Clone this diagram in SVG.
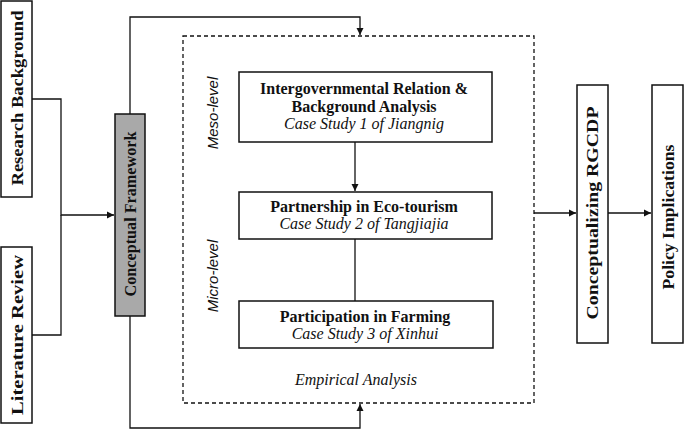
<svg xmlns="http://www.w3.org/2000/svg" width="685" height="431" viewBox="0 0 685 431">
<defs>
<marker id="ah" markerWidth="8" markerHeight="8" refX="7" refY="4" orient="auto" markerUnits="userSpaceOnUse">
<path d="M0,0.5 L7,4 L0,7.5 Z" fill="#111"/>
</marker>
</defs>
<style>
.box{fill:#fff;stroke:#111;stroke-width:1.5}
.gray{fill:#a9a9a9;stroke:#111;stroke-width:1.5}
.dash{fill:none;stroke:#111;stroke-width:1.3;stroke-dasharray:4,3}
.ln{fill:none;stroke:#111;stroke-width:1.3}
.b{font-family:"Liberation Serif","Times New Roman",serif;font-weight:bold;font-size:16px;fill:#111;text-anchor:middle}
.i{font-family:"Liberation Serif","Times New Roman",serif;font-style:italic;font-size:16px;fill:#111;text-anchor:middle}
.s{font-family:"Liberation Sans",Arial,sans-serif;font-style:italic;font-size:15px;fill:#111;text-anchor:middle}
</style>
<rect width="685" height="431" fill="#fff"/>
<g id="connectors">
<polyline class="ln" points="32,99 61,99 61,215 114,215" marker-end="url(#ah)"/>
<polyline class="ln" points="32,335 61,335 61,215"/>
<polyline class="ln" points="130,114 130,17 360,17 360,35" marker-end="url(#ah)"/>
<polyline class="ln" points="130,316 130,428 360,428 360,404" marker-end="url(#ah)"/>
<line class="ln" x1="355" y1="142" x2="355" y2="191" marker-end="url(#ah)"/>
<line class="ln" x1="355" y1="239" x2="355" y2="301"/>
<line class="ln" x1="534" y1="213" x2="576" y2="213" marker-end="url(#ah)"/>
<line class="ln" x1="608" y1="213" x2="651" y2="213" marker-end="url(#ah)"/>
</g>
<g id="empirical-analysis">
<rect class="dash" x="183" y="36" width="351" height="367"/>
<text class="i" x="356" y="385">Empirical Analysis</text>
</g>
<g id="meso-level"><text class="s" transform="translate(218,113) rotate(-90)">Meso-level</text></g>
<g id="micro-level"><text class="s" transform="translate(218,276) rotate(-90)">Micro-level</text></g>
<g id="research-background">
<rect class="box" x="1" y="1" width="31" height="196"/>
<text class="b" transform="translate(23,98) rotate(-90)" textLength="175" lengthAdjust="spacingAndGlyphs">Research Background</text>
</g>
<g id="literature-review">
<rect class="box" x="1" y="247" width="31" height="176"/>
<text class="b" transform="translate(23,335) rotate(-90)" textLength="160" lengthAdjust="spacingAndGlyphs">Literature Review</text>
</g>
<g id="conceptual-framework">
<rect class="gray" x="115" y="114" width="30" height="202"/>
<text class="b" transform="translate(136,214) rotate(-90)" textLength="165" lengthAdjust="spacingAndGlyphs">Conceptual Framework</text>
</g>
<g id="case1">
<rect class="box" x="239" y="72" width="253" height="70"/>
<text class="b" x="364" y="94">Intergovernmental Relation &amp;</text>
<text class="b" x="364" y="112">Background Analysis</text>
<text class="i" x="364" y="129">Case Study 1 of Jiangnig</text>
</g>
<g id="case2">
<rect class="box" x="239" y="192" width="253" height="47"/>
<text class="b" x="364" y="212">Partnership in Eco-tourism</text>
<text class="i" x="364" y="229">Case Study 2 of Tangjiajia</text>
</g>
<g id="case3">
<rect class="box" x="239" y="301" width="254" height="47"/>
<text class="b" x="365" y="322">Participation in Farming</text>
<text class="i" x="365" y="339">Case Study 3 of Xinhui</text>
</g>
<g id="conceptualizing-rgcdp">
<rect class="box" x="577" y="85" width="31" height="258"/>
<text class="b" transform="translate(598,213) rotate(-90)" textLength="213" lengthAdjust="spacingAndGlyphs">Conceptualizing RGCDP</text>
</g>
<g id="policy-implications">
<rect class="box" x="652" y="85" width="31" height="258"/>
<text class="b" transform="translate(674,217) rotate(-90)" textLength="145" lengthAdjust="spacingAndGlyphs">Policy Implications</text>
</g>
</svg>
